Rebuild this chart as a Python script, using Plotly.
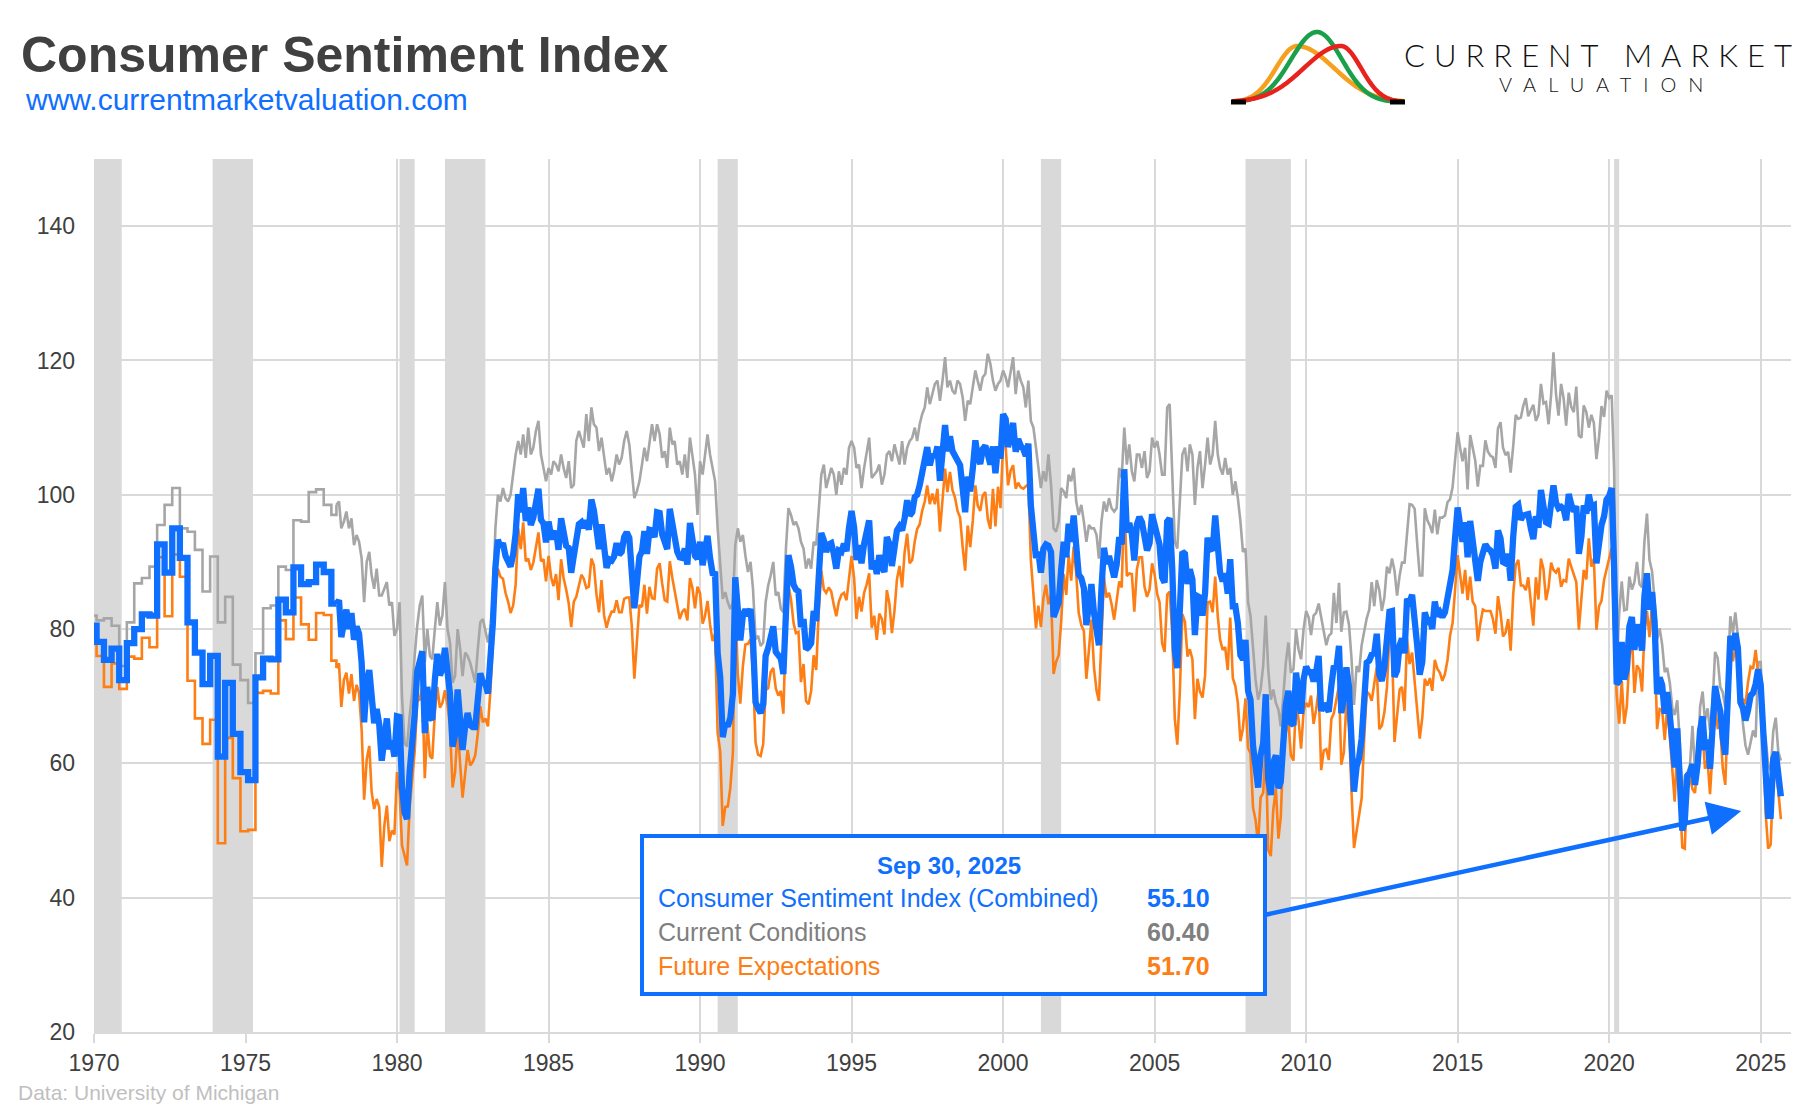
import math
import pandas as pd
import plotly.graph_objects as go

# ---------------- data ----------------
# quarterly survey readings 1970-1977 (Jan-1970 carry-in, then Feb/May/Aug/Nov)
ics_q = [80.5, 78.1, 75.4, 77.1, 72.4, 77.9, 80.0, 82.2, 82.0, 92.6, 88.4, 95.0, 90.6,
         81.0, 76.5, 71.8, 76.0, 61.0, 72.0, 64.4, 58.7, 57.5, 72.8, 75.6, 75.5,
         84.4, 82.5, 89.2, 86.7, 87.0, 89.6, 88.5, 83.8]
icc_q = [82.0, 81.3, 81.6, 80.5, 74.5, 81.0, 86.8, 87.6, 89.3, 95.5, 98.5, 101.0, 95.0,
         94.5, 91.8, 85.6, 90.8, 81.0, 84.8, 74.7, 72.4, 69.0, 76.4, 83.1, 83.5,
         89.3, 88.8, 96.2, 96.0, 100.4, 100.8, 98.5, 97.0]
ice_q = [79.5, 76.0, 71.4, 74.9, 71.1, 75.9, 75.6, 78.7, 77.3, 90.7, 81.9, 91.1, 87.8,
         72.3, 66.7, 62.9, 66.5, 48.1, 63.8, 57.8, 49.9, 50.1, 70.5, 70.8, 70.4,
         81.3, 78.5, 84.7, 80.7, 78.4, 82.4, 82.1, 75.3]

# monthly readings Jan-1978 .. Sep-2025
ics_m = [
    83.7, 84.3, 78.8, 81.6, 82.9, 80.0, 82.4, 78.4, 80.4, 79.3, 75.0, 66.1,   # 1978
    72.1, 73.9, 68.4, 66.0, 68.1, 65.8, 60.4, 64.5, 66.7, 62.1, 63.3, 61.0,   # 1979
    67.0, 66.9, 56.5, 52.7, 51.7, 58.7, 62.3, 67.3, 73.7, 75.0, 76.7, 64.5,   # 1980
    71.4, 66.9, 66.5, 72.4, 76.3, 73.1, 74.1, 77.2, 73.1, 70.3, 62.5, 64.3,   # 1981
    71.0, 66.5, 62.0, 65.5, 67.5, 65.7, 65.4, 65.4, 69.3, 73.4, 72.1, 71.9,   # 1982
    70.4, 74.6, 80.8, 89.1, 93.3, 92.2, 92.8, 90.9, 89.9, 89.3, 91.1, 94.2,   # 1983
    100.1, 97.4, 101.0, 96.1, 98.1, 95.5, 96.6, 99.1, 100.9, 96.3, 95.7, 92.9,  # 1984
    96.0, 93.7, 93.7, 94.6, 91.8, 96.5, 94.0, 92.4, 92.1, 88.4, 90.9, 93.9,   # 1985
    95.6, 95.9, 95.1, 96.2, 94.8, 99.3, 97.7, 94.9, 91.9, 95.6, 91.4, 89.1,   # 1986
    90.4, 90.2, 90.8, 92.8, 91.1, 91.5, 93.7, 94.4, 93.6, 89.3, 83.1, 86.8,   # 1987
    90.8, 91.6, 94.6, 91.2, 94.8, 94.7, 93.7, 97.4, 97.3, 94.1, 93.0, 91.9,   # 1988
    97.9, 95.4, 94.3, 91.5, 90.7, 90.6, 92.0, 89.6, 95.8, 93.9, 90.9, 90.5,   # 1989
    93.0, 89.5, 91.3, 93.9, 90.6, 88.3, 88.2, 76.4, 72.8, 63.9, 66.0, 65.5,   # 1990
    66.8, 70.4, 87.7, 81.8, 78.3, 82.1, 82.9, 82.0, 83.0, 78.3, 69.1, 68.2,   # 1991
    67.5, 68.8, 76.0, 77.2, 79.2, 80.4, 76.6, 76.1, 75.6, 73.3, 85.3, 91.0,   # 1992
    89.3, 86.6, 85.9, 85.6, 80.3, 81.5, 77.0, 77.3, 77.9, 82.7, 81.2, 88.2,   # 1993
    94.3, 93.2, 91.5, 92.6, 92.8, 91.2, 89.0, 91.7, 91.5, 92.7, 91.6, 95.1,   # 1994
    97.6, 95.1, 90.3, 92.5, 89.8, 92.7, 94.4, 96.2, 88.9, 90.2, 88.2, 91.0,   # 1995
    89.3, 88.5, 93.7, 92.7, 89.4, 92.4, 94.7, 95.3, 94.7, 96.5, 99.2, 96.9,   # 1996
    97.4, 99.7, 100.0, 101.4, 103.2, 104.5, 107.1, 104.4, 106.0, 105.6, 107.2, 102.1,  # 1997
    106.6, 110.4, 106.5, 108.7, 106.5, 105.6, 105.2, 104.4, 100.9, 97.4, 102.7, 100.5,  # 1998
    103.9, 108.1, 105.7, 104.6, 106.8, 107.3, 106.0, 104.5, 107.2, 103.2, 107.2, 105.4,  # 1999
    112.0, 111.3, 107.1, 109.2, 110.7, 106.4, 108.3, 107.3, 106.8, 105.8, 107.6, 98.4,  # 2000
    94.7, 90.6, 91.5, 88.4, 92.0, 92.6, 92.4, 91.5, 81.8, 82.7, 83.9, 88.8,   # 2001
    93.0, 90.7, 95.7, 93.0, 96.9, 92.4, 88.1, 87.6, 86.1, 80.6, 84.2, 86.7,   # 2002
    82.4, 79.9, 77.6, 86.0, 92.1, 89.7, 90.9, 89.3, 87.7, 89.6, 93.7, 92.6,   # 2003
    103.8, 94.4, 95.8, 94.2, 90.2, 95.6, 96.7, 95.9, 94.2, 91.7, 92.8, 97.1,  # 2004
    95.5, 94.1, 92.6, 87.7, 86.9, 96.0, 96.5, 89.1, 76.9, 74.2, 81.6, 91.5,   # 2005
    91.2, 86.7, 88.9, 87.4, 79.1, 84.9, 84.7, 82.0, 85.4, 93.6, 92.1, 91.7,   # 2006
    96.9, 91.3, 88.4, 87.1, 88.3, 85.3, 90.4, 83.4, 83.4, 80.9, 76.1, 75.5,   # 2007
    78.4, 70.8, 69.5, 62.6, 59.8, 56.4, 61.2, 63.0, 70.3, 57.6, 55.3, 60.1,   # 2008
    61.2, 56.3, 57.3, 65.1, 68.7, 70.8, 66.0, 65.7, 73.5, 70.6, 67.4, 72.5,   # 2009
    74.4, 73.6, 73.6, 72.2, 73.6, 76.0, 67.8, 68.9, 68.2, 67.7, 71.6, 74.5,   # 2010
    74.2, 77.5, 67.5, 69.8, 74.3, 71.5, 63.7, 55.8, 59.5, 60.8, 63.7, 69.9,   # 2011
    75.0, 75.3, 76.2, 76.4, 79.3, 73.2, 72.3, 74.3, 78.3, 82.6, 82.7, 72.9,   # 2012
    73.8, 77.6, 78.6, 76.4, 84.5, 84.1, 85.1, 82.1, 77.5, 73.2, 75.1, 82.5,   # 2013
    81.2, 81.6, 80.0, 84.1, 81.9, 82.5, 81.8, 82.5, 84.6, 86.9, 88.8, 93.6,   # 2014
    98.1, 95.4, 93.0, 95.9, 90.7, 96.1, 93.1, 91.9, 87.2, 90.0, 91.3, 92.6,   # 2015
    92.0, 91.7, 91.0, 89.0, 94.7, 93.5, 90.0, 89.8, 91.2, 87.2, 93.8, 98.2,   # 2016
    98.5, 96.3, 96.9, 97.0, 97.1, 95.0, 93.4, 96.8, 95.1, 100.7, 98.5, 95.9,  # 2017
    95.7, 99.7, 101.4, 98.8, 98.0, 98.2, 97.9, 96.2, 100.1, 98.6, 97.5, 98.3,  # 2018
    91.2, 93.8, 98.4, 97.2, 100.0, 98.2, 98.4, 89.8, 93.2, 95.5, 96.8, 99.3,  # 2019
    99.8, 101.0, 89.1, 71.8, 72.3, 78.1, 72.5, 74.1, 80.4, 81.8, 76.9, 80.7,  # 2020
    79.0, 76.8, 84.9, 88.3, 82.9, 85.5, 81.2, 70.3, 72.8, 71.7, 67.4, 70.6,   # 2021
    67.2, 62.8, 59.4, 65.2, 58.4, 50.0, 51.5, 58.2, 58.6, 59.9, 56.8, 59.7,   # 2022
    64.9, 67.0, 62.0, 63.5, 59.2, 64.4, 71.5, 69.4, 67.8, 63.8, 61.3, 69.7,   # 2023
    79.0, 76.9, 79.4, 77.2, 69.1, 68.2, 66.4, 67.9, 70.1, 70.5, 71.8, 74.0,   # 2024
    71.7, 64.7, 57.0, 52.2, 52.2, 60.7, 61.7, 58.2, 55.1,                     # 2025
]
icc_m = [
    98.5, 99.0, 95.0, 96.0, 97.5, 95.0, 96.5, 92.5, 94.0, 93.0, 90.5, 84.0,   # 1978
    90.0, 91.5, 88.0, 86.0, 89.0, 85.0, 85.0, 86.0, 87.0, 83.5, 84.0, 79.0,   # 1979
    80.0, 84.0, 70.0, 63.0, 62.5, 67.0, 70.5, 76.0, 80.5, 83.5, 85.0, 75.0,   # 1980
    80.0, 76.0, 75.5, 80.0, 84.0, 80.5, 82.0, 87.0, 80.0, 78.0, 72.0, 73.0,   # 1981
    80.0, 77.0, 73.0, 76.5, 76.0, 75.0, 73.5, 72.0, 77.0, 81.0, 81.5, 80.0,   # 1982
    78.0, 80.0, 84.5, 95.0, 100.0, 99.0, 101.0, 99.5, 99.0, 100.0, 103.0, 106.0,  # 1983
    108.0, 106.0, 109.0, 105.5, 110.0, 106.0, 107.0, 109.5, 111.0, 106.0, 104.0, 102.0,  # 1984
    104.0, 103.0, 105.0, 104.5, 103.5, 106.0, 104.0, 102.5, 105.0, 101.0, 101.5, 108.0,  # 1985
    109.5, 108.0, 107.0, 112.0, 108.0, 113.0, 110.5, 110.0, 106.5, 108.5, 106.0, 103.0,  # 1986
    104.0, 102.0, 103.5, 106.0, 104.5, 105.5, 108.0, 109.5, 107.5, 103.0, 99.5, 100.5,  # 1987
    102.0, 104.5, 107.0, 105.0, 108.0, 110.5, 108.0, 110.5, 109.0, 105.5, 106.5, 104.0,  # 1988
    110.0, 107.5, 108.0, 104.5, 105.0, 103.0, 106.0, 102.5, 108.5, 106.0, 103.0, 97.0,  # 1989
    105.0, 103.0, 106.0, 109.0, 106.0, 104.0, 102.0, 95.0, 90.0, 84.5, 85.5, 84.0,  # 1990
    83.0, 84.0, 92.5, 95.0, 93.0, 94.0, 91.0, 88.5, 90.0, 86.0, 78.5, 79.0,   # 1991
    77.5, 78.0, 84.0, 86.5, 88.0, 90.0, 85.0, 85.5, 83.0, 82.5, 92.0, 98.0,   # 1992
    97.0, 95.5, 96.0, 95.0, 93.0, 92.0, 89.0, 90.5, 89.0, 93.0, 92.5, 97.0,   # 1993
    103.0, 104.5, 101.0, 102.5, 104.0, 103.0, 100.0, 103.5, 101.5, 104.0, 103.0, 107.0,  # 1994
    108.0, 107.0, 104.0, 104.5, 101.0, 104.0, 106.5, 108.5, 102.5, 103.0, 103.5, 104.5,  # 1995
    101.5, 103.0, 106.0, 106.5, 105.0, 107.5, 106.0, 104.5, 108.0, 104.5, 107.0, 108.0,  # 1996
    108.5, 110.0, 108.0, 110.5, 112.0, 113.0, 116.0, 113.5, 115.0, 116.5, 117.0, 114.0,  # 1997
    117.0, 120.5, 116.0, 117.0, 115.5, 115.0, 117.0, 116.5, 114.5, 111.0, 114.0, 113.5,  # 1998
    116.0, 118.5, 117.0, 115.5, 117.5, 118.0, 121.0, 119.5, 117.0, 115.5, 116.5, 117.0,  # 1999
    118.5, 117.5, 116.0, 118.0, 120.5, 115.0, 118.5, 117.0, 116.0, 113.0, 117.0, 111.0,  # 2000
    110.0, 107.0, 104.0, 101.0, 103.5, 102.0, 106.0, 101.5, 95.0, 94.5, 96.0, 101.0,  # 2001
    100.5, 99.5, 103.0, 102.0, 104.0, 99.0, 97.0, 98.5, 96.0, 93.0, 95.5, 95.0,  # 2002
    95.0, 94.0, 90.5, 96.0, 99.0, 97.5, 99.5, 98.0, 97.5, 98.0, 104.0, 102.5,  # 2003
    110.0, 104.5, 107.5, 103.5, 102.0, 106.0, 106.0, 104.0, 106.5, 102.5, 103.5, 108.5,  # 2004
    107.0, 108.0, 106.0, 103.0, 103.0, 113.0, 113.5, 104.0, 93.0, 92.0, 98.5, 106.0,  # 2005
    107.0, 103.5, 107.5, 106.0, 98.5, 104.0, 106.5, 101.0, 104.5, 108.5, 104.5, 106.0,  # 2006
    111.0, 106.0, 104.0, 103.0, 105.5, 103.0, 104.0, 100.0, 102.0, 99.5, 96.0, 91.5,  # 2007
    92.0, 84.0, 82.0, 77.0, 72.5, 69.5, 71.0, 74.5, 82.0, 74.0, 69.5, 71.0,   # 2008
    69.0, 68.0, 65.5, 70.0, 75.0, 78.0, 73.5, 74.0, 80.0, 77.0, 75.5, 80.0,   # 2009
    82.7, 81.7, 79.1, 82.0, 82.4, 83.8, 81.6, 79.9, 77.6, 79.0, 79.4, 85.4,   # 2010
    80.9, 86.9, 79.6, 82.5, 82.6, 80.7, 75.8, 68.7, 74.5, 73.6, 77.6, 79.6,   # 2011
    81.6, 82.9, 87.0, 83.4, 87.3, 85.8, 82.7, 84.7, 89.3, 88.3, 90.5, 88.7,   # 2012
    85.0, 88.0, 89.9, 89.9, 93.8, 98.6, 98.5, 97.9, 92.6, 88.0, 88.0, 98.0,   # 2013
    96.2, 95.4, 94.3, 97.8, 94.1, 96.6, 96.6, 96.9, 98.9, 99.3, 101.1, 104.8,  # 2014
    109.3, 106.9, 105.0, 107.0, 100.8, 108.9, 107.2, 105.1, 101.2, 104.3, 104.3, 108.1,  # 2015
    106.4, 105.8, 105.6, 104.0, 109.9, 110.8, 107.0, 105.9, 106.4, 103.3, 107.3, 111.9,  # 2016
    111.3, 111.5, 113.2, 114.4, 111.7, 112.5, 113.4, 111.0, 111.9, 116.5, 113.6, 113.8,  # 2017
    110.5, 114.9, 121.2, 114.9, 111.8, 116.5, 114.4, 110.3, 115.2, 113.1, 112.3, 116.1,  # 2018
    108.8, 108.5, 113.3, 112.3, 110.0, 111.9, 110.7, 105.3, 108.5, 113.2, 111.6, 115.5,  # 2019
    114.4, 114.8, 103.7, 74.3, 82.3, 87.1, 82.8, 82.9, 87.8, 85.9, 87.0, 90.0,  # 2020
    86.7, 86.2, 93.0, 97.2, 90.3, 88.6, 84.5, 78.5, 80.1, 77.7, 73.6, 74.2,   # 2021
    72.0, 68.2, 67.2, 69.4, 63.3, 53.8, 58.1, 58.6, 59.7, 65.6, 58.8, 59.4,   # 2022
    68.4, 70.7, 66.3, 68.2, 64.9, 69.0, 76.6, 75.7, 71.4, 70.6, 68.3, 73.3,   # 2023
    81.9, 79.4, 82.5, 79.0, 69.6, 65.9, 62.7, 61.3, 63.3, 64.9, 63.9, 75.1,   # 2024
    75.1, 65.7, 63.8, 59.8, 58.9, 64.8, 66.8, 61.7, 60.4,                     # 2025
]
ice_m = [
    74.2, 74.9, 68.4, 72.4, 73.5, 70.4, 73.3, 69.3, 71.7, 70.5, 65.0, 54.6,   # 1978
    60.6, 62.6, 55.8, 53.2, 54.7, 53.5, 44.6, 50.7, 53.7, 48.4, 50.0, 49.4,   # 1979
    58.7, 55.9, 47.8, 46.1, 44.8, 53.4, 57.0, 61.7, 69.3, 69.5, 71.4, 57.8,   # 1980
    65.9, 61.1, 60.7, 67.5, 71.4, 68.3, 69.0, 70.9, 68.7, 65.4, 56.4, 58.7,   # 1981
    65.2, 59.8, 54.9, 58.4, 62.0, 59.7, 60.2, 61.2, 64.4, 68.5, 66.1, 66.7,   # 1982
    65.5, 71.1, 78.4, 85.3, 89.0, 87.8, 87.5, 85.4, 84.1, 82.4, 83.5, 86.6,   # 1983
    95.0, 91.9, 95.9, 90.1, 90.5, 88.8, 89.9, 92.4, 94.4, 90.1, 90.4, 87.1,   # 1984
    90.9, 87.7, 86.4, 88.2, 84.3, 90.4, 87.6, 85.9, 83.8, 80.3, 84.1, 84.8,   # 1985
    86.7, 88.1, 87.5, 86.1, 86.3, 90.5, 89.5, 85.2, 82.5, 87.3, 82.0, 80.2,   # 1986
    81.7, 82.6, 82.6, 84.3, 82.5, 82.5, 84.5, 84.7, 84.7, 80.5, 72.6, 78.0,   # 1987
    83.6, 83.3, 86.6, 82.3, 86.3, 84.6, 84.5, 89.0, 89.8, 86.8, 84.3, 84.1,   # 1988
    90.1, 87.6, 85.5, 83.2, 81.5, 82.6, 83.0, 81.3, 87.6, 86.1, 83.1, 86.3,   # 1989
    85.3, 80.8, 81.9, 84.2, 80.7, 78.2, 79.3, 64.5, 61.8, 50.7, 53.5, 53.6,   # 1990
    56.4, 61.7, 84.6, 73.3, 68.9, 74.5, 77.7, 77.8, 78.5, 73.4, 63.1, 61.3,   # 1991
    61.1, 62.9, 70.9, 71.2, 73.6, 74.2, 71.2, 70.1, 70.8, 67.4, 81.0, 86.5,   # 1992
    84.4, 80.9, 79.4, 79.6, 72.1, 74.8, 69.3, 68.8, 70.8, 76.1, 73.9, 82.6,   # 1993
    88.7, 85.9, 85.4, 86.2, 85.6, 83.6, 81.9, 84.1, 85.1, 85.4, 84.3, 87.5,   # 1994
    90.9, 87.5, 81.5, 84.8, 82.6, 85.4, 86.6, 88.3, 80.2, 82.0, 78.4, 82.3,   # 1995
    81.5, 79.2, 85.8, 83.8, 79.4, 82.7, 87.4, 89.4, 86.2, 91.4, 94.2, 89.8,   # 1996
    90.3, 93.1, 94.9, 95.6, 97.6, 99.0, 101.4, 98.6, 100.2, 98.6, 100.9, 94.5,  # 1997
    99.9, 103.9, 100.4, 103.4, 100.7, 99.6, 97.6, 96.6, 92.2, 88.7, 95.4, 92.2,  # 1998
    96.1, 101.4, 98.4, 97.6, 99.9, 100.4, 96.4, 94.9, 100.9, 95.3, 101.2, 98.0,  # 1999
    107.8, 107.3, 101.4, 103.6, 104.4, 100.9, 101.8, 101.1, 100.9, 101.2, 101.6, 90.3,  # 2000
    84.9, 80.1, 83.5, 80.3, 84.6, 86.6, 83.7, 85.1, 73.3, 75.1, 76.1, 81.0,   # 2001
    88.2, 85.1, 91.0, 87.2, 92.3, 88.2, 82.4, 80.6, 79.7, 72.6, 76.9, 81.4,   # 2002
    74.3, 70.8, 69.3, 79.6, 87.7, 84.7, 85.4, 83.7, 81.4, 84.2, 87.1, 86.2,   # 2003
    99.8, 87.9, 88.3, 88.2, 82.6, 88.9, 90.7, 90.7, 86.3, 84.8, 85.9, 89.8,   # 2004
    88.1, 85.2, 84.0, 77.9, 76.6, 85.1, 85.6, 79.5, 66.6, 62.8, 70.8, 82.2,   # 2005
    81.1, 75.9, 77.0, 75.5, 66.6, 72.6, 70.7, 69.8, 73.1, 84.0, 84.1, 82.5,   # 2006
    87.8, 81.9, 78.4, 76.9, 77.3, 73.9, 81.7, 72.7, 71.5, 69.0, 63.3, 65.2,   # 2007
    69.7, 62.3, 61.5, 53.4, 51.6, 48.0, 54.9, 55.6, 62.8, 47.1, 46.2, 53.1,   # 2008
    56.2, 48.8, 52.0, 62.0, 64.7, 66.2, 61.2, 60.4, 69.3, 66.5, 62.2, 67.7,   # 2009
    69.0, 68.4, 70.1, 65.9, 68.0, 71.0, 59.0, 61.9, 62.1, 60.5, 66.6, 67.5,   # 2010
    69.9, 71.6, 59.8, 61.7, 69.0, 65.6, 56.0, 47.4, 49.9, 52.6, 54.8, 63.6,   # 2011
    70.7, 70.3, 69.3, 71.9, 74.3, 65.1, 65.6, 67.6, 71.3, 79.0, 77.6, 63.2,   # 2012
    66.6, 71.0, 71.4, 67.8, 78.5, 74.8, 76.5, 71.8, 67.8, 63.7, 66.8, 72.6,   # 2013
    71.6, 72.7, 70.8, 75.4, 74.1, 73.5, 72.3, 73.3, 75.4, 79.0, 80.9, 86.4,   # 2014
    91.0, 88.0, 85.3, 88.8, 84.3, 87.8, 84.1, 83.4, 78.2, 80.8, 82.9, 82.7,   # 2015
    82.7, 82.7, 81.5, 79.3, 84.9, 82.4, 78.9, 79.5, 81.5, 76.8, 85.2, 89.5,   # 2016
    90.3, 86.5, 86.5, 85.8, 87.7, 83.9, 80.5, 87.7, 84.4, 90.5, 88.9, 84.3,   # 2017
    86.2, 89.9, 88.8, 88.4, 89.1, 86.3, 87.3, 87.1, 90.5, 89.3, 88.1, 87.0,   # 2018
    79.9, 84.4, 88.8, 87.4, 93.5, 89.3, 90.5, 79.9, 83.4, 84.2, 87.3, 88.9,   # 2019
    90.5, 92.1, 79.7, 70.1, 65.9, 72.3, 65.9, 68.5, 75.6, 79.2, 70.5, 74.6,   # 2020
    74.0, 70.7, 79.7, 82.7, 78.8, 83.5, 79.0, 65.1, 68.1, 67.9, 63.5, 68.3,   # 2021
    64.1, 59.4, 54.3, 62.5, 55.2, 47.5, 47.3, 58.0, 58.0, 56.2, 55.6, 59.9,   # 2022
    62.7, 64.7, 59.2, 60.5, 55.4, 61.5, 68.3, 65.3, 65.5, 59.3, 56.8, 67.4,   # 2023
    77.1, 75.2, 77.4, 76.0, 68.8, 69.6, 68.8, 72.1, 74.4, 74.1, 76.9, 73.3,   # 2024
    69.3, 64.0, 52.6, 47.3, 47.9, 58.1, 58.6, 55.9, 51.7,                     # 2025
]

recession_start = ['1970-01-01', '1973-12-01', '1980-02-01', '1981-08-01',
                   '1990-08-01', '2001-04-01', '2008-01-01', '2020-03-01']
recession_end = ['1970-12-01', '1975-04-01', '1980-08-01', '1982-12-01',
                 '1991-04-01', '2001-12-01', '2009-07-01', '2020-05-01']

tick_years = [1970, 1975, 1980, 1985, 1990, 1995, 2000, 2005, 2010, 2015, 2020, 2025]
y_ticks = [20, 40, 60, 80, 100, 120, 140]

latest_label = 'Sep 30, 2025'
latest_ics, latest_icc, latest_ice = 55.10, 60.40, 51.70

# ---------------- style ----------------
BLUE = '#0F6FFF'
ORANGE = '#FD7E14'
GRAY = '#A6A6A6'
GRID = '#D9D9D9'
TEXT = '#404040'
FONT = 'Liberation Sans, Arial, sans-serif'

q_dates = ['1970-01-01'] + [f'{y}-{m:02d}-01' for y in range(1970, 1978) for m in (2, 5, 8, 11)]


def month_dates(n):
    return [d.strftime('%Y-%m-%d') for d in pd.date_range('1978-01-01', periods=n, freq='MS')]


fig = go.Figure()


def add_series(q, m, color, width):
    md = month_dates(len(m))
    fig.add_trace(go.Scatter(x=q_dates + [md[0]], y=q + [m[0]], mode='lines',
                             line=dict(color=color, width=width, shape='hv'),
                             hoverinfo='skip', showlegend=False))
    fig.add_trace(go.Scatter(x=md, y=m, mode='lines',
                             line=dict(color=color, width=width),
                             showlegend=False))


add_series(icc_q, icc_m, GRAY, 2.6)
add_series(ice_q, ice_m, ORANGE, 2.6)
add_series(ics_q, ics_m, BLUE, 6.3)

shapes = []
for s, e in zip(recession_start, recession_end):
    shapes.append(dict(type='rect', xref='x', yref='paper', x0=s, x1=e, y0=0, y1=1,
                       fillcolor=GRID, line=dict(width=0), layer='between'))

# plot-area pixel frame used to place decorations
L, R, T, B = 94, 1791, 159, 1032


def px(x):
    return (x - L) / (R - L)


def py(y):
    return (B - y) / (B - T)


# call-out box
shapes.append(dict(type='rect', xref='paper', yref='paper',
                   x0=px(642), x1=px(1265), y0=py(994), y1=py(836),
                   fillcolor='white', line=dict(color=BLUE, width=4), layer='above'))


# logo (decorative bell curves)
def bell_path(mu, sl, sr, h):
    pts = []
    x = 1232
    while x <= 1404:
        s = sl if x < mu else sr
        y = 102 - h * math.exp(-((x - mu) ** 2) / (2 * s * s))
        pts.append((px(x), py(y)))
        x += 2
    return 'M ' + ' L '.join(f'{a:.5f},{b:.5f}' for a, b in pts)


for mu, sl, sr, h, col in [(1297, 21, 37, 56, '#F5A01E'),
                           (1317, 26, 25, 70, '#1AA04A'),
                           (1341, 37, 20, 56, '#E8231E')]:
    shapes.append(dict(type='path', xref='paper', yref='paper', path=bell_path(mu, sl, sr, h),
                       line=dict(color=col, width=4.5), layer='above'))
for x0, x1 in [(1231, 1246), (1390, 1405)]:
    shapes.append(dict(type='line', xref='paper', yref='paper', x0=px(x0), x1=px(x1),
                       y0=py(102), y1=py(102), line=dict(color='black', width=5), layer='above'))

annotations = [
    dict(text='<b>Consumer Sentiment Index</b>', xref='paper', yref='paper', x=px(19), y=py(55),
         xanchor='left', yanchor='middle', showarrow=False,
         font=dict(family=FONT, size=50, color=TEXT)),
    dict(text='www.currentmarketvaluation.com', xref='paper', yref='paper', x=px(23), y=py(99),
         xanchor='left', yanchor='middle', showarrow=False,
         font=dict(family=FONT, size=30, color=BLUE)),
    dict(text='<span style="letter-spacing:9px">CURRENT MARKET</span>', xref='paper', yref='paper',
         x=px(1402), y=py(55), xanchor='left', yanchor='middle', showarrow=False,
         font=dict(family='Lato, Open Sans, sans-serif', size=31, color='#111111', weight=300)),
    dict(text='<span style="letter-spacing:12px">VALUATION</span>', xref='paper', yref='paper',
         x=px(1497), y=py(84), xanchor='left', yanchor='middle', showarrow=False,
         font=dict(family='Lato, Open Sans, sans-serif', size=20, color='#111111', weight=300)),
    dict(text='Data: University of Michigan', xref='paper', yref='paper', x=px(16), y=py(1092),
         xanchor='left', yanchor='middle', showarrow=False,
         font=dict(family=FONT, size=21, color='#BFBFBF')),
    # arrow from call-out box to latest readings
    dict(x='2024-05-11', y=52.9, xref='x', yref='y', ax=-477, ay=104, text='',
         showarrow=True, arrowhead=2, arrowsize=1.5, arrowwidth=4.5, arrowcolor=BLUE),
    dict(text=f'<b>{latest_label}</b>', xref='paper', yref='paper', x=px(949), y=py(865),
         xanchor='center', yanchor='middle', showarrow=False,
         font=dict(family=FONT, size=24, color=BLUE)),
]
rows = [('Consumer Sentiment Index (Combined)', latest_ics, BLUE, 898),
        ('Current Conditions', latest_icc, '#7F7F7F', 932),
        ('Future Expectations', latest_ice, ORANGE, 966)]
for label, val, col, ypx in rows:
    annotations.append(dict(text=label, xref='paper', yref='paper', x=px(656), y=py(ypx),
                            xanchor='left', yanchor='middle', showarrow=False,
                            font=dict(family=FONT, size=25, color=col)))
    annotations.append(dict(text=f'<b>{val:.2f}</b>', xref='paper', yref='paper', x=px(1212), y=py(ypx),
                            xanchor='right', yanchor='middle', showarrow=False,
                            font=dict(family=FONT, size=25, color=col)))

fig.update_layout(
    width=1820, height=1116,
    margin=dict(l=L, r=1820 - R, t=T, b=1116 - B),
    paper_bgcolor='white', plot_bgcolor='white',
    font=dict(family=FONT, color=TEXT),
    xaxis=dict(type='date', range=['1970-01-01', '2026-01-01'],
               tickvals=[f'{y}-01-01' for y in tick_years], ticktext=[str(y) for y in tick_years],
               showgrid=True, gridcolor=GRID, gridwidth=1.5,
               showline=True, linecolor=GRID, linewidth=2,
               ticks='outside', ticklen=9, tickcolor=GRID, tickwidth=1.5,
               tickfont=dict(family=FONT, size=23, color=TEXT), zeroline=False),
    yaxis=dict(range=[20, 150], tickvals=y_ticks, showgrid=True, gridcolor=GRID, gridwidth=1.5,
               zeroline=False, showline=False, ticks='', ticklabelstandoff=18,
               tickfont=dict(family=FONT, size=23, color=TEXT)),
    shapes=shapes, annotations=annotations, showlegend=False, hovermode=False,
)

fig.write_html('out.html')
